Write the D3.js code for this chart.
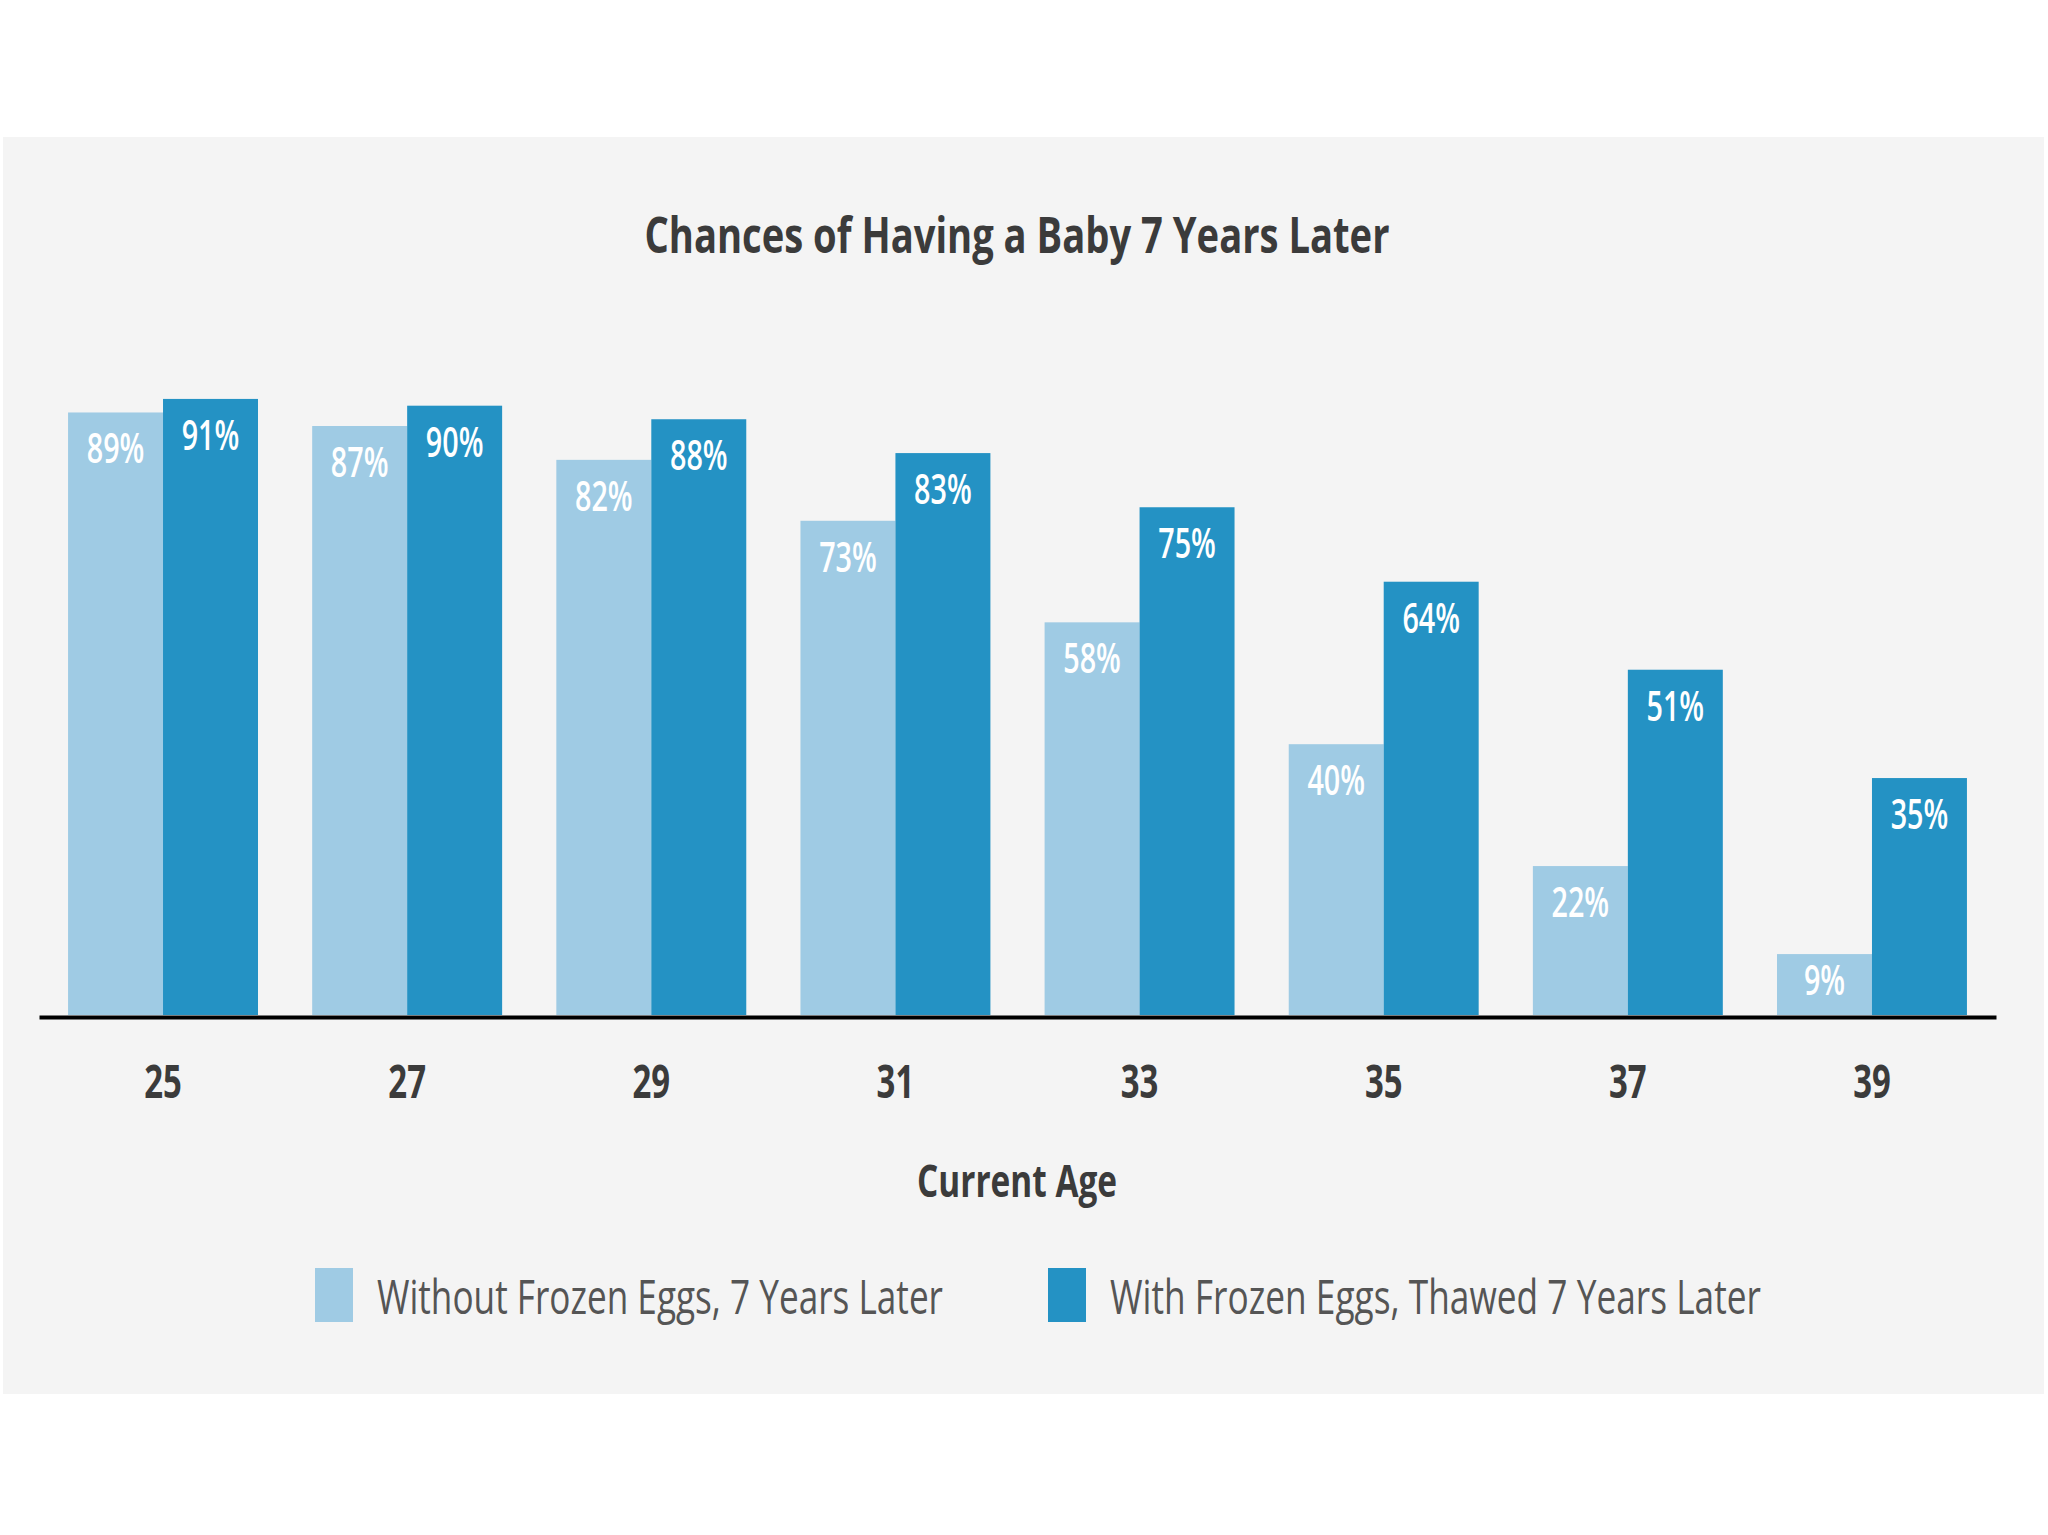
<!DOCTYPE html>
<html>
<head>
<meta charset="utf-8">
<script src="https://cdn.jsdelivr.net/npm/d3@7"></script>
<style>
  html, body { margin: 0; padding: 0; background: #ffffff; }
  svg { display: block; }
</style>
</head>
<body>
<svg id="chart" width="2048" height="1535"></svg>
<script>
// ---- Data ----
const ages = ["25", "27", "29", "31", "33", "35", "37", "39"];
const withoutFrozen = [89, 87, 82, 73, 58, 40, 22, 9];
const withFrozen = [91, 90, 88, 83, 75, 64, 51, 35];
const seriesNames = ["Without Frozen Eggs, 7 Years Later", "With Frozen Eggs, Thawed 7 Years Later"];
const seriesKeys = ["without", "with"];
const titleText = "Chances of Having a Baby 7 Years Later";
const xAxisTitle = "Current Age";

const colors = { without: "#9fcbe4", with: "#2492c4" };
const FONT = "'Open Sans', 'Noto Sans', sans-serif";

const rows = ages.map((a, i) => ({ age: a, without: withoutFrozen[i], with: withFrozen[i] }));

const svg = d3.select("#chart");

// background panel
svg.append("rect").attr("x", 3).attr("y", 137).attr("width", 2041).attr("height", 1257).attr("fill", "#f4f4f4");

const x0 = d3.scaleBand().domain(ages).range([39, 1996]).paddingInner(0.222).paddingOuter(0.119);
const x1 = d3.scaleBand().domain(seriesKeys).range([0, x0.bandwidth()]).padding(0);
const y = d3.scaleLinear().domain([0, 100]).range([1015, 338]);

function condense(sel, factor) {
  sel.attr("lengthAdjust", "spacingAndGlyphs")
     .attr("textLength", function () { return this.getComputedTextLength() * factor; });
}

// Title
svg.append("text").attr("x", 1017).attr("y", 253).attr("text-anchor", "middle")
  .attr("font-family", FONT).attr("font-weight", 700).attr("font-size", 50).attr("fill", "#3b3b3b")
  .attr("lengthAdjust", "spacingAndGlyphs").attr("textLength", 745)
  .text(titleText);

// Bars
const groups = svg.append("g").selectAll("g").data(rows).join("g")
  .attr("transform", d => `translate(${x0(d.age)},0)`);

groups.selectAll("rect").data(d => seriesKeys.map(k => ({ key: k, value: d[k] }))).join("rect")
  .attr("x", d => x1(d.key))
  .attr("y", d => y(d.value))
  .attr("width", x1.bandwidth())
  .attr("height", d => y(0) - y(d.value))
  .attr("fill", d => colors[d.key]);

groups.selectAll("text.val").data(d => seriesKeys.map(k => ({ key: k, value: d[k] }))).join("text")
  .attr("class", "val")
  .attr("x", d => x1(d.key) + x1.bandwidth() / 2)
  .attr("y", d => Math.min(y(d.value) + 51, (y(d.value) + y(0)) / 2 + 10))
  .attr("text-anchor", "middle")
  .attr("font-family", FONT).attr("font-weight", 600).attr("font-size", 41).attr("fill", "#ffffff")
  .text(d => d.value + "%")
  .call(condense, 0.70);

// X axis
const xAxis = svg.append("g").attr("transform", "translate(0,1017)")
  .call(d3.axisBottom(x0).tickSize(0).tickSizeOuter(0).tickPadding(0));
xAxis.select(".domain").attr("stroke", "#000").attr("stroke-width", 4);
xAxis.selectAll(".tick text")
  .attr("y", 81).attr("dy", 0)
  .attr("font-family", FONT).attr("font-weight", 700).attr("font-size", 47).attr("fill", "#3b3b3b")
  .call(condense, 0.70);

// Axis title
svg.append("text").attr("x", 1017).attr("y", 1197).attr("text-anchor", "middle")
  .attr("font-family", FONT).attr("font-weight", 700).attr("font-size", 45).attr("fill", "#3b3b3b")
  .attr("lengthAdjust", "spacingAndGlyphs").attr("textLength", 200)
  .text(xAxisTitle);

// Legend
const legendX = [315, 1048];
const legendW = [566, 651];
const legend = svg.append("g").selectAll("g").data(seriesKeys).join("g")
  .attr("transform", (d, i) => `translate(${legendX[i]},0)`);
legend.append("rect").attr("x", 0).attr("y", 1268).attr("width", 38).attr("height", 54)
  .attr("fill", d => colors[d]);
legend.append("text").attr("x", 62).attr("y", 1314)
  .attr("font-family", FONT).attr("font-weight", 400).attr("font-size", 47).attr("fill", "#555555")
  .attr("lengthAdjust", "spacingAndGlyphs").attr("textLength", (d, i) => legendW[i])
  .text((d, i) => seriesNames[i]);
</script>
</body>
</html>
